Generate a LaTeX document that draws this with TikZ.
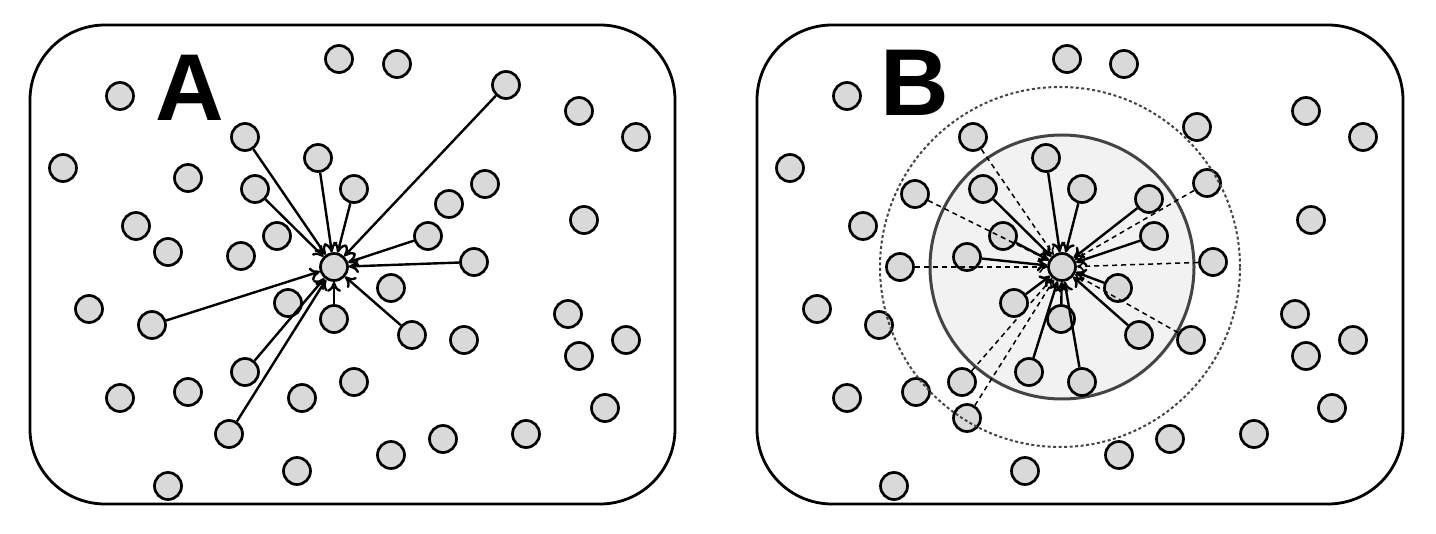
\documentclass[tikz,border=0pt]{standalone}
\usepackage{fontspec}
\setmainfont{Liberation Sans}
\usetikzlibrary{arrows.meta}
\definecolor{dotfill}{HTML}{D9D9D9}
\definecolor{zonefill}{HTML}{F2F2F2}
\definecolor{zoneline}{HTML}{444444}
\tikzset{
  dot/.style={circle, draw=black, fill=dotfill, line width=2.7pt, minimum size=27pt, inner sep=0pt},
  panel/.style={draw=black, line width=2.8pt, rounded corners=75pt},
  arr/.style={line width=2.4pt, -{To[length=10pt,width=14pt]}},
  darr/.style={line width=1.5pt, dash pattern=on 5pt off 4pt, -{To[length=8pt,width=12pt]}},
  letter/.style={inner sep=0pt, font=\fontsize{95}{95}\selectfont\bfseries}
}
\begin{document}
\begin{tikzpicture}[x=1pt,y=-1pt]
\useasboundingbox (0,0) rectangle (1436,534);
% panels
\draw[panel] (30,25) rectangle (675,504);
\draw[panel] (757,25) rectangle (1403,504);
\node[letter] (la) at (190,88) {A};
\node[letter] (lb) at (915,83) {B};
% inner zone of B
\node[circle, draw=zoneline, fill=zonefill, line width=3pt, minimum size=264pt, inner sep=0pt] (zone) at (1062,267) {};
% panel A nodes
\foreach \n/\x/\y in {1/120/96,2/339/59,3/397/64,4/506/85,5/579/111,6/636/137,7/63/168,8/188/178,
  9/245/137,10/318/158,11/255/189,12/354/189,13/485/184,14/449/204,15/136/226,16/168/252,
  17/241/256,18/277/236,19/428/236,20/474/262,21/584/220,22/89/309,23/152/325,24/288/303,
  25/334/319,26/391/288,27/412/335,28/464/340,29/568/314,30/626/340,31/579/356,32/245/372,
  33/120/398,34/188/392,35/302/398,36/354/382,37/229/434,38/297/471,39/168/486,40/391/455,
  41/443/439,42/526/434,43/605/408}
  \node[dot] (a\n) at (\x,\y) {};
\node[dot] (ca) at (334,267) {};
% panel B nodes
\foreach \n/\x/\y in {1/847/96,2/1067/59,3/1124/64,4/973/137,5/1046/158,6/790/168,7/983/189,
  8/1082/189,9/915/194,10/1306/111,11/1363/137,12/1197/127,13/1207/183,14/1149/199,15/863/226,
  16/1003/236,17/1154/236,18/967/257,19/900/267,20/1213/262,21/1311/220,22/817/309,23/879/325,
  24/1014/303,25/1061/319,26/1118/288,27/1139/335,28/1191/340,29/1295/314,30/1353/340,
  31/1306/356,32/962/382,33/1029/372,34/1082/382,35/847/398,36/916/392,37/967/418,38/1025/471,
  39/894/486,40/1119/455,41/1170/439,42/1254/434,43/1332/408}
  \node[dot] (b\n) at (\x,\y) {};
\node[dot] (cb) at (1062,267) {};
% panel A connectors
\foreach \s in {4,9,10,11,12,19,20,23,25,27,32,37}
  \draw[arr] (a\s) -- (ca);
% panel B connectors
\foreach \s in {5,7,8,14,16,17,18,24,25,26,27,33,34}
  \draw[arr] (b\s) -- (cb);
\foreach \s in {4,9,13,19,20,28,32,37}
  \draw[darr] (b\s) -- (cb);
% outer dotted circle of B
\node[circle, draw=zoneline, line width=2pt, dash pattern=on 3pt off 2.5pt, minimum size=360pt, inner sep=0pt] (ring) at (1060,267) {};
\end{tikzpicture}
\end{document}
